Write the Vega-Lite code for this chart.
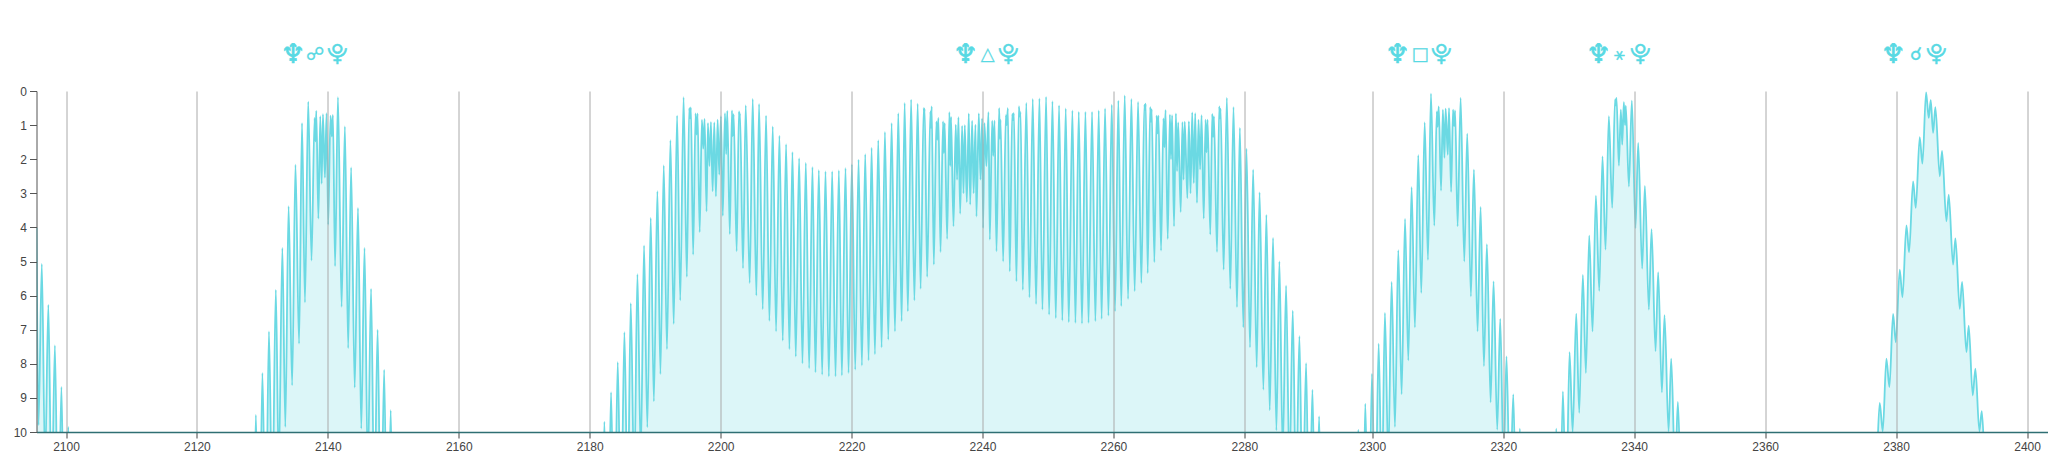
{"$schema":"https://vega.github.io/schema/vega-lite/v6.json","width":2011.5,"height":341,"autosize":{"type":"none"},"padding":{"left":36.5,"top":91,"right":0,"bottom":24},"background":"white","config":{"view":{"stroke":null}},
"datasets":{"orb":[
{"year":2095.5,"orb":4.0},{"year":2095.8,"orb":9.8},{"year":2096.3,"orb":5.07},{"year":2096.8,"orb":11},{"year":2097.3,"orb":6.27},{"year":2097.8,"orb":12.2},{"year":2098.3,"orb":7.46},{"year":2098.8,"orb":13.4},{"year":2099.3,"orb":8.68},{"year":2099.8,"orb":14.6},{"year":2100.35,"orb":9.85},{"year":2100.85,"orb":15.5},
{"year":2128.5,"orb":15.5},{"year":2129.0,"orb":9.5},{"year":2129.5,"orb":14.7},{"year":2130.0,"orb":8.27},{"year":2130.5,"orb":13.5},{"year":2131.0,"orb":7.05},{"year":2131.5,"orb":12.3},{"year":2132.05,"orb":5.83},{"year":2132.5,"orb":11.07},{"year":2133.05,"orb":4.6},{"year":2133.5,"orb":9.85},{"year":2134.0,"orb":3.38},{"year":2134.54,"orb":8.63},{"year":2135.05,"orb":2.16},{"year":2135.6,"orb":7.41},{"year":2136.05,"orb":0.94},{"year":2136.5,"orb":6.2},{"year":2137.0,"orb":0.31},{"year":2137.5,"orb":4.97},{"year":2137.97,"orb":0.79},{"year":2138.1,"orb":1.48},{"year":2138.23,"orb":0.58},{"year":2138.55,"orb":3.74},{"year":2138.84,"orb":0.74},{"year":2139.05,"orb":2.72},{"year":2139.25,"orb":0.68},{"year":2139.55,"orb":2.54},{"year":2139.8,"orb":0.65},{"year":2140.05,"orb":3.92},{"year":2140.4,"orb":0.72},{"year":2140.6,"orb":1.33},{"year":2140.77,"orb":0.7},{"year":2141.1,"orb":5.14},{"year":2141.54,"orb":0.18},{"year":2142.1,"orb":6.33},{"year":2142.6,"orb":1.04},{"year":2143.1,"orb":7.54},{"year":2143.55,"orb":2.24},{"year":2144.1,"orb":8.7},{"year":2144.6,"orb":3.43},{"year":2145.1,"orb":9.9},{"year":2145.6,"orb":4.6},{"year":2146.1,"orb":11.1},{"year":2146.6,"orb":5.8},{"year":2147.1,"orb":12.3},{"year":2147.6,"orb":7.0},{"year":2148.1,"orb":13.5},{"year":2148.6,"orb":8.17},{"year":2149.1,"orb":14.7},{"year":2149.6,"orb":9.36},{"year":2150.1,"orb":15.5},
{"year":2181.7,"orb":15.5},{"year":2182.24,"orb":9.7},{"year":2182.74,"orb":14.7},{"year":2183.26,"orb":8.83},{"year":2183.76,"orb":13.9},{"year":2184.28,"orb":7.95},{"year":2184.78,"orb":13.1},{"year":2185.3,"orb":7.07},{"year":2185.8,"orb":12.3},{"year":2186.27,"orb":6.22},{"year":2186.8,"orb":11.5},{"year":2187.29,"orb":5.37},{"year":2187.8,"orb":10.7},{"year":2188.3,"orb":4.53},{"year":2188.8,"orb":9.86},{"year":2189.32,"orb":3.72},{"year":2189.8,"orb":9.1},{"year":2190.34,"orb":2.94},{"year":2190.8,"orb":8.3},{"year":2191.31,"orb":2.18},{"year":2191.8,"orb":7.57},{"year":2192.33,"orb":1.44},{"year":2192.83,"orb":6.83},{"year":2193.35,"orb":0.72},{"year":2193.83,"orb":6.14},{"year":2194.34,"orb":0.18},{"year":2194.84,"orb":5.45},
{"year":2195.2,"orb":0.5},{"year":2195.33,"orb":0.8},{"year":2195.46,"orb":0.48},{"year":2195.8,"orb":4.8},{"year":2196.17,"orb":0.66},{"year":2196.33,"orb":1.28},{"year":2196.48,"orb":0.66},{"year":2196.8,"orb":4.14},{"year":2197.14,"orb":0.84},{"year":2197.35,"orb":1.69},{"year":2197.55,"orb":0.82},{"year":2197.85,"orb":3.53},{"year":2198.06,"orb":0.94},{"year":2198.29,"orb":2.2},{"year":2198.52,"orb":0.91},{"year":2198.78,"orb":2.94},{"year":2199.03,"orb":0.92},{"year":2199.28,"orb":3.09},{"year":2199.54,"orb":0.84},{"year":2199.79,"orb":2.45},{"year":2200.05,"orb":0.74},{"year":2200.33,"orb":3.66},{"year":2200.66,"orb":0.65},{"year":2200.85,"orb":1.85},{"year":2201.02,"orb":0.58},{"year":2201.4,"orb":4.2},{"year":2201.73,"orb":0.57},{"year":2201.85,"orb":1.33},{"year":2201.99,"orb":0.68},{"year":2202.45,"orb":4.7},{"year":2202.8,"orb":0.6},{"year":2202.88,"orb":0.85},{"year":2202.96,"orb":0.65},{"year":2203.42,"orb":5.2},{"year":2203.83,"orb":0.42},{"year":2204.44,"orb":5.63},{"year":2204.9,"orb":0.23},{"year":2205.46,"orb":6.0},{"year":2205.87,"orb":0.38},{"year":2206.43,"orb":6.4},{"year":2206.94,"orb":0.72},{"year":2207.45,"orb":6.74},{"year":2207.96,"orb":1.04},{"year":2208.47,"orb":7.05},{"year":2208.98,"orb":1.31},{"year":2209.49,"orb":7.32},{"year":2210.0,"orb":1.56},{"year":2210.51,"orb":7.57},{"year":2210.97,"orb":1.79},{"year":2211.48,"orb":7.79},{"year":2211.99,"orb":1.97},{"year":2212.5,"orb":7.99},{"year":2213.01,"orb":2.11},{"year":2213.52,"orb":8.13},{"year":2214.03,"orb":2.23},{"year":2214.49,"orb":8.25},{"year":2215.0,"orb":2.32},{"year":2215.51,"orb":8.32},{"year":2216.02,"orb":2.36},{"year":2216.53,"orb":8.37},{"year":2217.04,"orb":2.36},{"year":2217.55,"orb":8.37},{"year":2218.06,"orb":2.33},{"year":2218.52,"orb":8.34},{"year":2219.08,"orb":2.26},{"year":2219.54,"orb":8.27},{"year":2220.05,"orb":2.15},{"year":2220.56,"orb":8.17},{"year":2221.07,"orb":2.01},{"year":2221.58,"orb":8.05},{"year":2222.09,"orb":1.85},{"year":2222.6,"orb":7.9},{"year":2223.06,"orb":1.66},{"year":2223.57,"orb":7.72},{"year":2224.08,"orb":1.44},{"year":2224.59,"orb":7.52},{"year":2225.1,"orb":1.2},{"year":2225.61,"orb":7.29},{"year":2226.12,"orb":0.94},{"year":2226.63,"orb":7.05},{"year":2227.14,"orb":0.65},{"year":2227.65,"orb":6.75},{"year":2228.11,"orb":0.35},{"year":2228.6,"orb":6.46},{"year":2229.1,"orb":0.25},{"year":2229.6,"orb":6.14},{"year":2230.1,"orb":0.37},{"year":2230.55,"orb":5.8},
{"year":2231.02,"orb":0.5},{"year":2231.1,"orb":0.65},{"year":2231.17,"orb":0.52},{"year":2231.55,"orb":5.45},{"year":2232.04,"orb":0.6},{"year":2232.14,"orb":1.08},{"year":2232.24,"orb":0.45},{"year":2232.57,"orb":5.09},{"year":2232.96,"orb":0.89},{"year":2233.1,"orb":1.43},{"year":2233.27,"orb":0.79},{"year":2233.59,"orb":4.72},{"year":2233.98,"orb":0.89},{"year":2234.1,"orb":1.82},{"year":2234.23,"orb":0.94},{"year":2234.6,"orb":4.34},{"year":2234.95,"orb":0.62},{"year":2235.08,"orb":2.2},{"year":2235.2,"orb":0.76},{"year":2235.57,"orb":3.97},{"year":2235.92,"orb":0.99},{"year":2236.12,"orb":2.6},{"year":2236.33,"orb":0.77},{"year":2236.59,"orb":3.6},{"year":2236.89,"orb":1.02},{"year":2237.1,"orb":3.0},{"year":2237.3,"orb":1.0},{"year":2237.61,"orb":3.26},{"year":2237.91,"orb":0.66},{"year":2238.12,"orb":3.33},{"year":2238.42,"orb":0.87},{"year":2238.65,"orb":3.0},{"year":2238.93,"orb":0.99},{"year":2239.08,"orb":3.68},{"year":2239.44,"orb":0.66},{"year":2239.7,"orb":2.6},{"year":2239.95,"orb":0.8},{"year":2240.1,"orb":4.02},{"year":2240.3,"orb":0.94},{"year":2240.6,"orb":2.2},{"year":2240.92,"orb":0.62},{"year":2241.12,"orb":4.36},{"year":2241.48,"orb":0.87},{"year":2241.65,"orb":1.9},{"year":2241.84,"orb":0.87},{"year":2242.14,"orb":4.7},{"year":2242.55,"orb":0.5},{"year":2242.65,"orb":1.4},{"year":2242.76,"orb":0.84},{"year":2243.16,"orb":5.0},{"year":2243.57,"orb":0.71},{"year":2243.72,"orb":1.0},{"year":2243.88,"orb":0.5},{"year":2244.17,"orb":5.29},{"year":2244.54,"orb":0.67},{"year":2244.67,"orb":0.85},{"year":2244.8,"orb":0.65},{"year":2245.19,"orb":5.58},{"year":2245.56,"orb":0.45},{"year":2245.7,"orb":0.75},{"year":2245.82,"orb":0.62},{"year":2246.16,"orb":5.83},{"year":2246.7,"orb":0.35},{"year":2247.18,"orb":6.05},{"year":2247.68,"orb":0.23},{"year":2248.19,"orb":6.25},{"year":2248.7,"orb":0.22},{"year":2249.16,"orb":6.41},{"year":2249.72,"orb":0.17},{"year":2250.18,"orb":6.56},{"year":2250.69,"orb":0.3},{"year":2251.2,"orb":6.66},{"year":2251.7,"orb":0.42},{"year":2252.2,"orb":6.73},{"year":2252.72,"orb":0.51},{"year":2253.18,"orb":6.78},{"year":2253.74,"orb":0.57},{"year":2254.2,"orb":6.8},{"year":2254.71,"orb":0.61},{"year":2255.2,"orb":6.82},{"year":2255.73,"orb":0.61},{"year":2256.2,"orb":6.8},{"year":2256.74,"orb":0.61},{"year":2257.25,"orb":6.75},{"year":2257.76,"orb":0.57},{"year":2258.2,"orb":6.68},{"year":2258.73,"orb":0.51},{"year":2259.24,"orb":6.59},{"year":2259.75,"orb":0.4},{"year":2260.25,"orb":6.46},{"year":2260.76,"orb":0.28},{"year":2261.2,"orb":6.31},{"year":2261.73,"orb":0.13},{"year":2262.24,"orb":6.1},{"year":2262.75,"orb":0.23},{"year":2263.25,"orb":5.87},{"year":2263.77,"orb":0.32},{"year":2264.27,"orb":5.63},
{"year":2264.73,"orb":0.4},{"year":2264.85,"orb":0.55},{"year":2264.94,"orb":0.37},{"year":2265.24,"orb":5.34},{"year":2265.62,"orb":0.47},{"year":2265.75,"orb":0.9},{"year":2265.85,"orb":0.53},{"year":2266.26,"orb":5.02},{"year":2266.6,"orb":0.72},{"year":2266.75,"orb":1.25},{"year":2266.88,"orb":0.72},{"year":2267.28,"orb":4.68},{"year":2267.65,"orb":0.8},{"year":2267.8,"orb":1.65},{"year":2267.97,"orb":0.56},{"year":2268.3,"orb":4.34},{"year":2268.63,"orb":0.69},{"year":2268.8,"orb":2.0},{"year":2268.97,"orb":0.71},{"year":2269.26,"orb":3.97},{"year":2269.55,"orb":0.66},{"year":2269.72,"orb":2.35},{"year":2269.9,"orb":0.92},{"year":2270.28,"orb":3.55},{"year":2270.55,"orb":0.91},{"year":2270.72,"orb":2.6},{"year":2270.9,"orb":0.9},{"year":2271.3,"orb":3.14},{"year":2271.53,"orb":0.89},{"year":2271.78,"orb":3.0},{"year":2272.04,"orb":0.63},{"year":2272.28,"orb":2.7},{"year":2272.5,"orb":0.65},{"year":2272.77,"orb":3.28},{"year":2273.0,"orb":0.84},{"year":2273.25,"orb":2.3},{"year":2273.47,"orb":0.71},{"year":2273.8,"orb":3.74},{"year":2274.08,"orb":0.84},{"year":2274.23,"orb":1.8},{"year":2274.39,"orb":0.84},{"year":2274.8,"orb":4.21},{"year":2275.1,"orb":0.67},{"year":2275.23,"orb":1.35},{"year":2275.36,"orb":0.74},{"year":2275.83,"orb":4.72},{"year":2276.17,"orb":0.45},{"year":2276.27,"orb":0.8},{"year":2276.38,"orb":0.52},{"year":2276.84,"orb":5.24},{"year":2277.33,"orb":0.2},{"year":2277.86,"orb":5.8},{"year":2278.35,"orb":0.47},{"year":2278.88,"orb":6.34},{"year":2279.32,"orb":1.08},{"year":2279.85,"orb":6.93},{"year":2280.33,"orb":1.69},{"year":2280.87,"orb":7.52},{"year":2281.35,"orb":2.31},{"year":2281.89,"orb":8.1},{"year":2282.33,"orb":2.97},{"year":2282.91,"orb":8.76},{"year":2283.37,"orb":3.63},{"year":2283.88,"orb":9.36},{"year":2284.39,"orb":4.31},{"year":2284.9,"orb":9.95},{"year":2285.36,"orb":5.0},{"year":2285.87,"orb":10.6},{"year":2286.38,"orb":5.71},{"year":2286.9,"orb":11.2},{"year":2287.4,"orb":6.44},{"year":2287.9,"orb":11.9},{"year":2288.42,"orb":7.19},{"year":2288.9,"orb":12.6},{"year":2289.44,"orb":7.98},{"year":2289.9,"orb":13.3},{"year":2290.41,"orb":8.76},{"year":2290.9,"orb":14.0},{"year":2291.43,"orb":9.54},{"year":2291.9,"orb":14.7},
{"year":2297.4,"orb":15.5},{"year":2297.86,"orb":9.93},{"year":2298.45,"orb":14.85},{"year":2298.93,"orb":9.17},{"year":2299.45,"orb":13.85},{"year":2299.95,"orb":8.29},{"year":2300.45,"orb":12.85},{"year":2300.97,"orb":7.41},{"year":2301.45,"orb":11.85},{"year":2301.93,"orb":6.51},{"year":2302.44,"orb":10.85},{"year":2302.95,"orb":5.6},{"year":2303.46,"orb":9.85},{"year":2303.97,"orb":4.67},{"year":2304.48,"orb":8.89},{"year":2305.0,"orb":3.75},{"year":2305.5,"orb":7.9},{"year":2306.0,"orb":2.82},{"year":2306.51,"orb":6.93},{"year":2307.02,"orb":1.88},{"year":2307.48,"orb":5.92},{"year":2308.0,"orb":0.92},{"year":2308.5,"orb":4.95},{"year":2308.96,"orb":0.08},{"year":2309.47,"orb":3.95},{"year":2309.85,"orb":0.6},{"year":2309.98,"orb":1.05},{"year":2310.15,"orb":0.45},{"year":2310.5,"orb":2.92},{"year":2310.78,"orb":0.55},{"year":2311.02,"orb":1.96},{"year":2311.2,"orb":0.52},{"year":2311.53,"orb":1.87},{"year":2311.72,"orb":0.5},{"year":2312.04,"orb":2.96},{"year":2312.33,"orb":0.55},{"year":2312.5,"orb":1.03},{"year":2312.65,"orb":0.57},{"year":2313.03,"orb":3.97},{"year":2313.49,"orb":0.2},{"year":2314.05,"orb":5.0},{"year":2314.5,"orb":1.25},{"year":2315.06,"orb":6.02},{"year":2315.52,"orb":2.31},{"year":2316.08,"orb":7.05},{"year":2316.54,"orb":3.4},{"year":2317.05,"orb":8.07},{"year":2317.5,"orb":4.49},{"year":2318.07,"orb":9.13},{"year":2318.52,"orb":5.58},{"year":2319.08,"orb":9.93},{"year":2319.54,"orb":6.68},{"year":2320.05,"orb":11.0},{"year":2320.5,"orb":7.78},{"year":2321.03,"orb":12.1},{"year":2321.53,"orb":8.9},{"year":2322.05,"orb":13.2},{"year":2322.54,"orb":9.9},{"year":2323.05,"orb":14.3},
{"year":2327.6,"orb":15.0},{"year":2328.09,"orb":9.9},{"year":2328.6,"orb":13.6},{"year":2329.11,"orb":8.81},{"year":2329.6,"orb":12.4},{"year":2330.13,"orb":7.66},{"year":2330.6,"orb":10.0},{"year":2331.15,"orb":6.53},{"year":2331.6,"orb":9.44},{"year":2332.16,"orb":5.39},{"year":2332.62,"orb":8.27},{"year":2333.13,"orb":4.24},{"year":2333.64,"orb":7.05},{"year":2334.15,"orb":3.07},{"year":2334.66,"orb":5.86},{"year":2335.16,"orb":1.92},{"year":2335.62,"orb":4.65},{"year":2336.13,"orb":0.74},{"year":2336.64,"orb":3.43},{"year":2337.07,"orb":0.25},{"year":2337.18,"orb":0.42},{"year":2337.3,"orb":0.2},{"year":2337.66,"orb":2.19},{"year":2337.96,"orb":0.55},{"year":2338.17,"orb":1.57},{"year":2338.42,"orb":0.33},{"year":2338.6,"orb":1.0},{"year":2338.72,"orb":0.43},{"year":2339.19,"orb":2.8},{"year":2339.64,"orb":0.28},{"year":2340.2,"orb":4.02},{"year":2340.61,"orb":1.52},{"year":2341.22,"orb":5.21},{"year":2341.63,"orb":2.78},{"year":2342.24,"orb":6.41},{"year":2342.65,"orb":4.05},{"year":2343.26,"orb":7.63},{"year":2343.66,"orb":5.31},{"year":2344.23,"orb":8.84},{"year":2344.63,"orb":6.57},{"year":2345.25,"orb":9.98},{"year":2345.65,"orb":7.85},{"year":2346.25,"orb":11.2},{"year":2346.67,"orb":9.12},{"year":2347.25,"orb":12.4},
{"year":2376.9,"orb":11.3},{"year":2377.5,"orb":9.15},{"year":2377.96,"orb":9.98},{"year":2378.52,"orb":7.85},{"year":2378.98,"orb":8.68},{"year":2379.54,"orb":6.54},{"year":2379.95,"orb":7.37},{"year":2380.56,"orb":5.24},{"year":2380.97,"orb":6.05},{"year":2381.58,"orb":3.94},{"year":2381.98,"orb":4.73},{"year":2382.6,"orb":2.65},{"year":2383.0,"orb":3.43},{"year":2383.61,"orb":1.35},{"year":2384.02,"orb":2.13},{"year":2384.58,"orb":0.04},{"year":2384.98,"orb":0.79},{"year":2385.29,"orb":0.27},{"year":2385.65,"orb":1.23},{"year":2386.0,"orb":0.47},{"year":2386.67,"orb":2.5},{"year":2387.02,"orb":1.76},{"year":2387.68,"orb":3.82},{"year":2388.04,"orb":3.04},{"year":2388.7,"orb":5.09},{"year":2389.06,"orb":4.32},{"year":2389.72,"orb":6.39},{"year":2390.08,"orb":5.6},{"year":2390.74,"orb":7.66},{"year":2391.09,"orb":6.88},{"year":2391.7,"orb":8.93},{"year":2392.11,"orb":8.14},{"year":2392.72,"orb":9.98},{"year":2393.08,"orb":9.39},{"year":2393.7,"orb":11.3},{"year":2403.2,"orb":11.3}
],
"labels":[
{"aspect":"☍","neptune_year":2134.68,"aspect_year":2138.04,"pluto_year":2141.4,"orb":-1.05},
{"aspect":"△","neptune_year":2237.44,"aspect_year":2240.8,"pluto_year":2244.05,"orb":-1.05},
{"aspect":"□","neptune_year":2303.88,"aspect_year":2307.29,"pluto_year":2310.54,"orb":-1.05},
{"aspect":"⚹","neptune_year":2334.58,"aspect_year":2337.83,"pluto_year":2340.99,"orb":-1.05},
{"aspect":"☌","neptune_year":2379.58,"aspect_year":2383.05,"pluto_year":2386.2,"orb":-1.05}
]},
"encoding":{"y":{"field":"orb","type":"quantitative","scale":{"domain":[0,10],"reverse":true,"nice":false,"zero":false},"axis":{"title":null,"values":[0,1,2,3,4,5,6,7,8,9,10],"format":"d","grid":false,"zindex":1,"domainColor":"#555","tickColor":"#555","tickSize":7,"labelColor":"#444","labelFont":"Liberation Sans","labelFontSize":12,"labelPadding":3}}},
"layer":[
{"data":{"name":"orb"},"mark":{"type":"area","interpolate":"monotone","color":"#dcf6f8","clip":true},"encoding":{"x":{"field":"year","type":"quantitative","scale":{"domain":[2095.49,2295,2296,2403.2],"range":[0,1306,1309.6,2011.5],"nice":false,"zero":false},"axis":{"title":null,"values":[2100,2120,2140,2160,2180,2200,2220,2240,2260,2280,2300,2320,2340,2360,2380,2400],"format":"d","grid":true,"gridColor":"#aaaaaa","gridWidth":1,"zindex":1,"domainColor":"#2f6f73","domainWidth":1.5,"tickColor":"#444","tickSize":6,"labelColor":"#444","labelFont":"Liberation Sans","labelFontSize":12,"labelPadding":3,"labelOverlap":false}},"y2":{"datum":10}}},
{"data":{"name":"orb"},"mark":{"type":"line","interpolate":"monotone","color":"#6bd9e3","strokeWidth":1.8,"clip":true},"encoding":{"x":{"field":"year","type":"quantitative"}}},
{"data":{"name":"labels"},"mark":{"type":"text","font":"DejaVu Sans","fontSize":27,"color":"#58d9e3","stroke":"#58d9e3","strokeWidth":0.7,"text":"♆"},"encoding":{"x":{"field":"neptune_year","type":"quantitative"}}},
{"data":{"name":"labels"},"mark":{"type":"text","font":"DejaVu Sans","fontSize":18,"color":"#58d9e3","stroke":"#58d9e3","strokeWidth":0.3},"encoding":{"x":{"field":"aspect_year","type":"quantitative"},"text":{"field":"aspect"}}},
{"data":{"name":"labels"},"mark":{"type":"text","font":"DejaVu Sans","fontSize":21,"color":"#58d9e3","stroke":"#58d9e3","strokeWidth":0.6,"text":"⯓"},"encoding":{"x":{"field":"pluto_year","type":"quantitative"}}}
]}
